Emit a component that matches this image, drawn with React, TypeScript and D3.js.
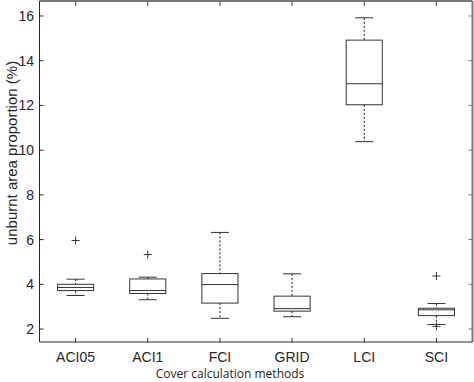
import React from "react";
import * as d3 from "d3";

const categories = ["ACI05", "ACI1", "FCI", "GRID", "LCI", "SCI"];
const lowerWhisker = [3.5, 3.31, 2.48, 2.55, 10.38, 2.2];
const q1 = [3.72, 3.59, 3.16, 2.8, 12.03, 2.6];
const median = [3.86, 3.72, 3.99, 2.91, 12.97, 2.86];
const q3 = [4.0, 4.24, 4.48, 3.47, 14.92, 2.93];
const upperWhisker = [4.23, 4.32, 6.32, 4.47, 15.92, 3.14];
const outliers: number[][] = [[5.96], [5.33], [], [], [], [4.37, 2.12]];
const yTicks = [2, 4, 6, 8, 10, 12, 14, 16];

export default function App() {
  const W = 474, H = 382;
  const left = 39.5, right = 472.5, top = 1, bottom = 342;
  const x = d3.scaleBand<string>().domain(categories).range([left, right]);
  const y = d3.scaleLinear().domain([1.42, 16.67]).range([bottom, top]);
  const bw = x.bandwidth();
  const boxW = bw * 0.5;
  const capW = boxW * 0.5;
  const stroke = "#333";
  const tick = 4;
  return (
    <svg width={W} height={H} style={{ position: "absolute", left: 0, top: 0, background: "#fff" }}>
      {/* frame */}
      <line x1={left} x2={right} y1={top} y2={top} stroke="#777" strokeWidth={2} />
      <line x1={right} x2={right} y1={top} y2={bottom} stroke="#777" strokeWidth={2} />
      <line x1={left} x2={right} y1={bottom} y2={bottom} stroke="#262626" strokeWidth={1} />
      <line x1={left} x2={left} y1={top} y2={bottom} stroke="#262626" strokeWidth={1} />
      {yTicks.map((t) => (
        <g key={t}>
          <line x1={left} x2={left + tick} y1={y(t)} y2={y(t)} stroke="#262626" />
          <line x1={right} x2={right - tick} y1={y(t)} y2={y(t)} stroke="#777" />
          <text x={34} y={y(t) + 5} textAnchor="end" fontFamily="Liberation Sans, Arial, sans-serif" fontSize={14} fill="#262626">{t}</text>
        </g>
      ))}
      {categories.map((c) => {
        const cx = x(c)! + bw / 2;
        return (
          <g key={"t" + c}>
            <line x1={cx} x2={cx} y1={bottom} y2={bottom - tick} stroke="#262626" />
            <line x1={cx} x2={cx} y1={top} y2={top + tick + 1} stroke="#555" />
            <text x={cx} y={362} textAnchor="middle" fontFamily="Liberation Sans, Arial, sans-serif" fontSize={14} fill="#262626">{c}</text>
          </g>
        );
      })}
      {categories.map((c, i) => {
        const cx = x(c)! + bw / 2;
        return (
          <g key={"b" + c} fill="none" stroke={stroke} strokeWidth={1}>
            <line x1={cx} x2={cx} y1={y(upperWhisker[i])} y2={y(q3[i])} strokeDasharray="2,2" stroke="#111" />
            <line x1={cx} x2={cx} y1={y(q1[i])} y2={y(lowerWhisker[i])} strokeDasharray="2,2" stroke="#111" />
            <line x1={cx - capW / 2} x2={cx + capW / 2} y1={y(upperWhisker[i])} y2={y(upperWhisker[i])} />
            <line x1={cx - capW / 2} x2={cx + capW / 2} y1={y(lowerWhisker[i])} y2={y(lowerWhisker[i])} />
            <rect x={cx - boxW / 2} y={y(q3[i])} width={boxW} height={y(q1[i]) - y(q3[i])} />
            <line x1={cx - boxW / 2} x2={cx + boxW / 2} y1={y(median[i])} y2={y(median[i])} />
            {outliers[i].map((o, j) => (
              <g key={j}>
                <line x1={cx - 4} x2={cx + 4} y1={y(o)} y2={y(o)} />
                <line x1={cx} x2={cx} y1={y(o) - 4} y2={y(o) + 4} />
              </g>
            ))}
          </g>
        );
      })}
      <text transform={`translate(17,153) rotate(-90)`} textAnchor="middle" fontFamily="Liberation Sans, Arial, sans-serif" fontSize={15} fill="#262626">unburnt area proportion (%)</text>
      <text x={230} y={378} textAnchor="middle" fontFamily="Open Sans, sans-serif" fontSize={12} fill="#262626">Cover calculation methods</text>
    </svg>
  );
}
